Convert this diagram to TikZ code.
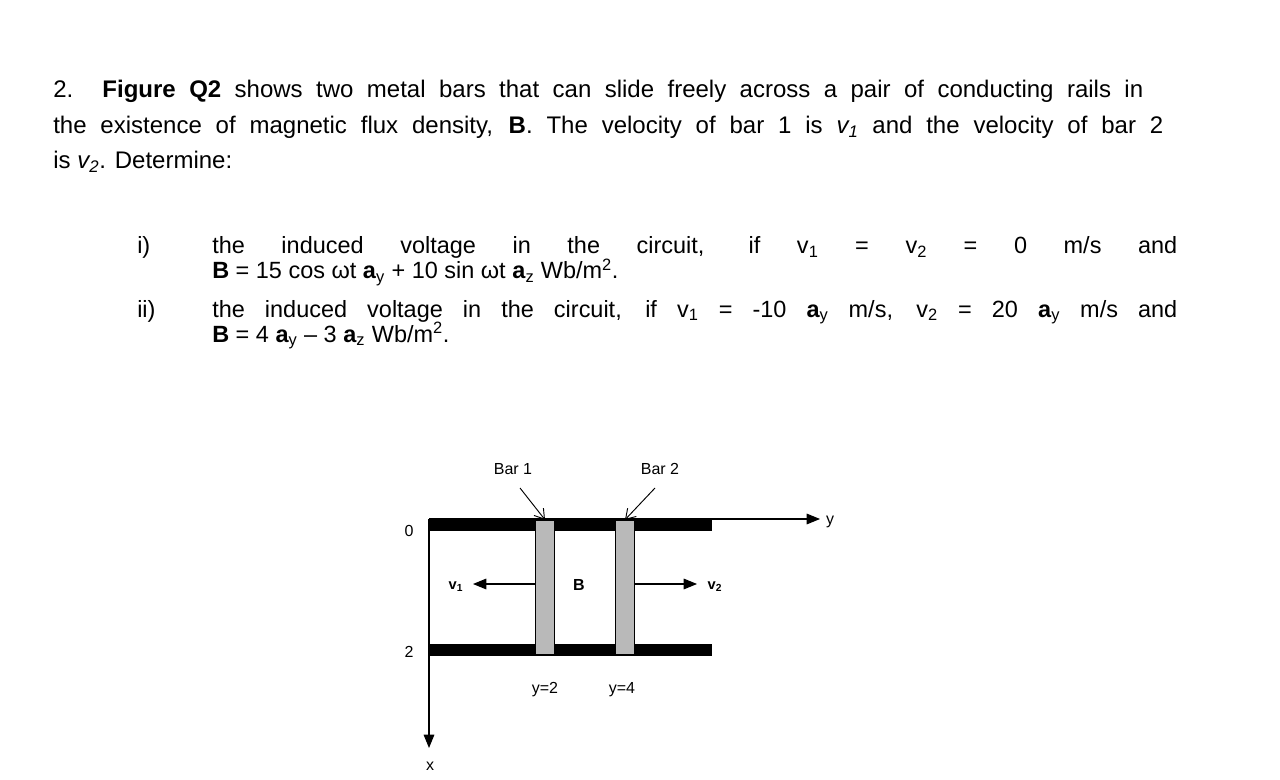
\documentclass[tikz,border=0pt]{standalone}
\usepackage{fontspec}
\setmainfont{Liberation Sans}
\usetikzlibrary{arrows.meta}
\begin{document}
\begin{tikzpicture}[x=0.75pt,y=-0.75pt,
  txt/.style={anchor=base west,inner sep=0pt,font=\fontsize{18pt}{20pt}\selectfont},
  itm/.style={anchor=base west,inner sep=0pt,font=\fontsize{17.6pt}{20pt}\selectfont},
  lab/.style={inner sep=0pt,font=\fontsize{12pt}{14pt}\selectfont},
  rail/.style={fill=black},
  bar/.style={fill=gray!55,draw=black,line width=0.6pt},
  arr/.style={-{Triangle[length=10pt,width=8pt]},line width=0.8pt},
  thin/.style={-{Straight Barb[length=7pt,width=9pt]},line width=0.7pt}]
\useasboundingbox (0,0) rectangle (1280,780);
\fill[white] (0,0) rectangle (1280,780);
\node[txt] (l1) at (53,98) {\makebox[817.5pt][s]{2. \textbf{Figure Q2} shows two metal bars that can slide freely across a pair of conducting rails in}};
\node[txt] (l2) at (53,134) {\makebox[832.5pt][s]{the existence of magnetic flux density, \textbf{B}. The velocity of bar 1 is \textit{v\textsubscript{1}} and the velocity of bar 2}};
\node[txt] (l3) at (53,169) {is \textit{v\textsubscript{2}}. Determine:};
\node[itm] (i1) at (137,254) {i)};
\node[itm] (i2) at (212,254) {\makebox[723.75pt][s]{the induced voltage in the circuit, if v\textsubscript{1} = v\textsubscript{2} = 0 m/s and}};
\node[itm] (i3) at (212,279) {\textbf{B} = 15 cos ωt \textbf{a}\textsubscript{y} + 10 sin ωt \textbf{a}\textsubscript{z} Wb/m\textsuperscript{2}.};
\node[itm] (j1) at (137,317) {ii)};
\node[itm] (j2) at (212,317) {\makebox[723.75pt][s]{the induced voltage in the circuit, if v\textsubscript{1} = -10 \textbf{a}\textsubscript{y} m/s, v\textsubscript{2} = 20 \textbf{a}\textsubscript{y} m/s and}};
\node[itm] (j3) at (212,342) {\textbf{B} = 4 \textbf{a}\textsubscript{y} -- 3 \textbf{a}\textsubscript{z} Wb/m\textsuperscript{2}.};
% figure
\fill[rail] (429,519) rectangle (712,531);
\fill[rail] (429,644) rectangle (712,656);
\node[bar,minimum width=14pt,minimum height=101pt,inner sep=0pt] (b1) at (545,587.5) {};
\node[bar,minimum width=14pt,minimum height=101pt,inner sep=0pt] (b2) at (625,587.5) {};
\coordinate (o) at (429,519);
\coordinate (xe) at (429,748);
\coordinate (ye) at (820,519);
\draw[arr] (o) -- (xe);
\draw[arr] (o) -- (ye);
\node[lab] (n0) at (409,531) {0};
\node[lab] (n2) at (409,652) {2};
\node[lab] (xl) at (430,766) {x};
\node[lab] (yl) at (830,522) {y};
\node[lab] (bl1) at (513,469) {Bar 1};
\node[lab] (bl2) at (660,469) {Bar 2};
\draw[thin] (520,488) -- (b1.north);
\draw[thin] (655,488) -- (b2.north);
\node[lab,font=\bfseries\fontsize{11pt}{13pt}\selectfont] (v1) at (456,587) {v\textsubscript{1}};
\node[lab,font=\bfseries\fontsize{11pt}{13pt}\selectfont] (v2) at (715,587) {v\textsubscript{2}};
\node[lab,font=\bfseries\fontsize{12pt}{14pt}\selectfont] (B) at (579,585) {B};
\draw[arr] (b1.west |- 0,584) -- (473,584);
\draw[arr] (b2.east |- 0,584) -- (697,584);
\node[lab] (y2) at (545,690) {y=2};
\node[lab] (y4) at (622,690) {y=4};
\end{tikzpicture}
\end{document}
